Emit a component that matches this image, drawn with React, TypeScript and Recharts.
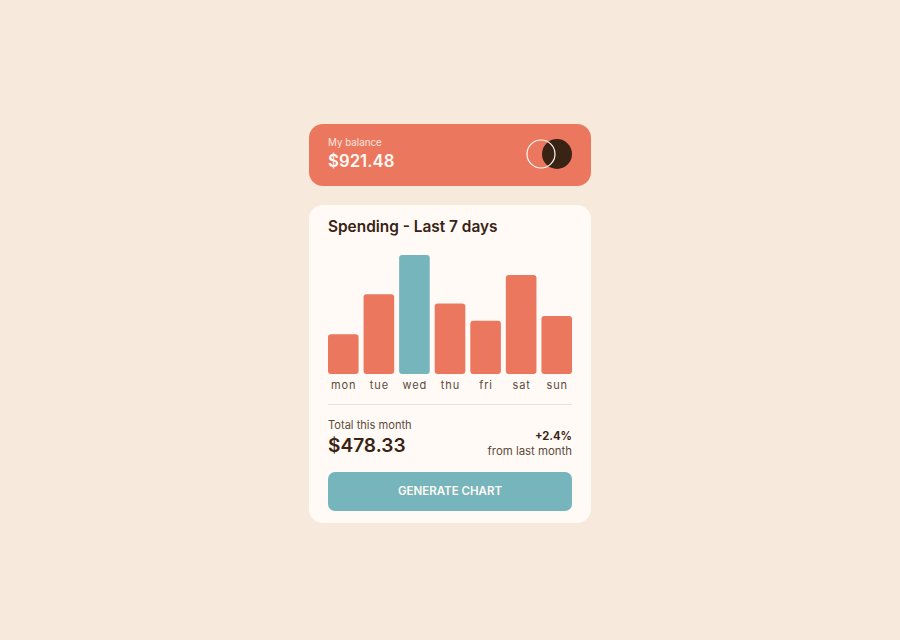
import { BarChart, Bar, Cell, XAxis, YAxis } from 'recharts'

const days = ['mon', 'tue', 'wed', 'thu', 'fri', 'sat', 'sun']
const amounts = [17.45, 35.1, 52.36, 31.07, 23.39, 43.6, 25.48]

const data = days.map((day, i) => ({ day, amount: amounts[i] }))
const maxAmount = Math.max(...amounts)

const red = '#ec775f'
const teal = '#76b5bc'
const brown = '#382314'
const font = 'Inter, "Open Sans", sans-serif'

function Text({ x, y, right, size, weight = 400, color = brown, children }: any) {
  const pos = right !== undefined ? { right } : { left: x }
  return (
    <div style={{ position: 'absolute', top: y, ...pos, fontSize: size, fontWeight: weight, color, lineHeight: 1, whiteSpace: 'nowrap' }}>
      {children}
    </div>
  )
}

export default function App() {
  return (
    <div style={{ position: 'fixed', left: 0, top: 0, width: 900, height: 640, background: '#f8e9dd', fontFamily: font }}>
      <div style={{ position: 'absolute', left: 309, top: 124, width: 282, height: 62, borderRadius: 14, background: red }} />
      <Text x={328} y={138} size={9.8} color="#fbe6df">My balance</Text>
      <Text x={328} y={153} size={16.8} weight={600} color="#fffaf5">$921.48</Text>
      <svg style={{ position: 'absolute', left: 520, top: 134 }} width={60} height={40}>
        <circle cx={37} cy={20} r={15} fill={brown} />
        <circle cx={21} cy={20} r={14} fill="none" stroke="#fffaf5" strokeWidth={1.2} />
      </svg>

      <div style={{ position: 'absolute', left: 309, top: 205, width: 282, height: 318, borderRadius: 14, background: '#fffaf5' }} />
      <Text x={328} y={219} size={15.4} weight={600}>Spending - Last 7 days</Text>

      <div style={{ position: 'absolute', left: 325.5, top: 255 }}>
        <BarChart width={249} height={140} data={data} margin={{ top: 0, right: 0, bottom: 0, left: 0 }}>
          <XAxis
            dataKey="day"
            axisLine={false}
            tickLine={false}
            height={21}
            tickMargin={1}
            tick={{ fontSize: 11, fill: '#5c4a3e', fontFamily: font, letterSpacing: 0.9 }}
            interval={0}
          />
          <YAxis hide domain={[0, maxAmount]} />
          <Bar dataKey="amount" barSize={30.6} radius={3} isAnimationActive={false}>
            {days.map((day, i) => (
              <Cell key={day} fill={amounts[i] === maxAmount ? teal : red} />
            ))}
          </Bar>
        </BarChart>
      </div>

      <div style={{ position: 'absolute', left: 328, top: 404, width: 244, height: 1, background: '#e8e0d9' }} />
      <Text x={328} y={420} size={11.1} color="#5c4a3e">Total this month</Text>
      <Text x={328} y={436} size={19.1} weight={600}>$478.33</Text>
      <Text right={328} y={431} size={11.2} weight={700}>+2.4%</Text>
      <Text right={328} y={446} size={11.4} color="#5c4a3e">from last month</Text>

      <div style={{ position: 'absolute', left: 328, top: 472, width: 244, height: 38, paddingBottom: 1, borderRadius: 7, background: teal, color: '#fffaf5', fontSize: 11.5, fontWeight: 600, display: 'flex', alignItems: 'center', justifyContent: 'center' }}>
        GENERATE CHART
      </div>
    </div>
  )
}
